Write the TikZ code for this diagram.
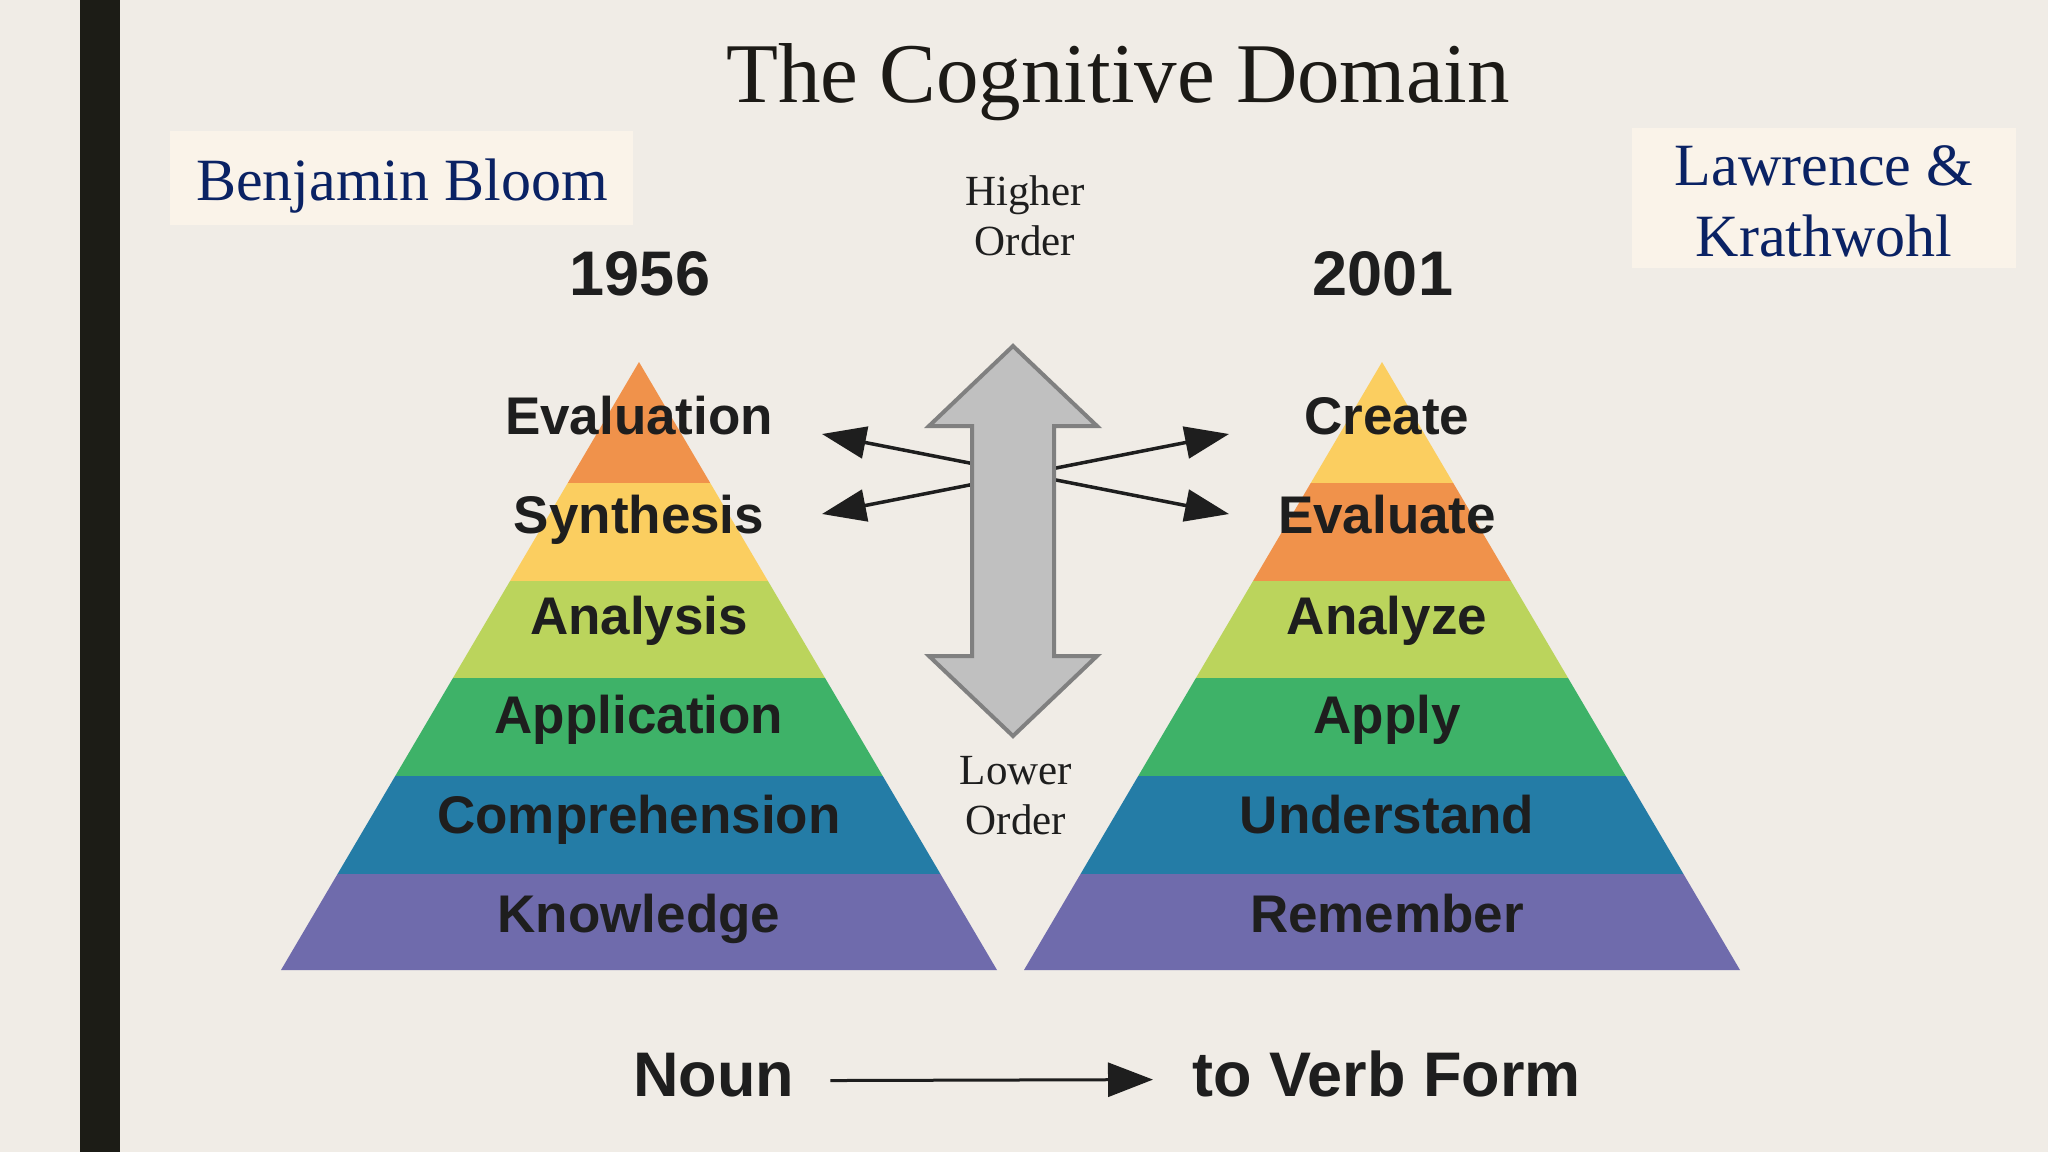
\documentclass[tikz,border=0pt]{standalone}
\usepackage{fontspec}
\setmainfont{Liberation Serif}
\newfontfamily\labsans{Liberation Sans}
\usetikzlibrary{arrows.meta}
\definecolor{bg}{RGB}{240,236,230}
\definecolor{barcol}{RGB}{28,28,22}
\definecolor{boxcol}{RGB}{250,243,233}
\definecolor{navy}{RGB}{10,34,100}
\definecolor{titlecol}{RGB}{28,26,22}
\definecolor{corange}{RGB}{240,146,75}
\definecolor{cyellow}{RGB}{251,206,96}
\definecolor{clgreen}{RGB}{187,212,92}
\definecolor{cgreen}{RGB}{62,178,104}
\definecolor{cblue}{RGB}{36,124,166}
\definecolor{cpurple}{RGB}{111,107,172}
\definecolor{labcol}{RGB}{30,30,30}
\definecolor{arrfill}{RGB}{192,192,192}
\definecolor{arrdraw}{RGB}{128,128,128}
\tikzset{
  lvl/.style={anchor=base, inner sep=0pt, text=labcol, font=\labsans\bfseries\fontsize{53}{60}\selectfont},
  yearlbl/.style={anchor=base, inner sep=0pt, text=labcol, font=\labsans\bfseries\fontsize{63}{70}\selectfont},
  authorlbl/.style={anchor=base, inner sep=0pt, text=navy, font=\fontsize{60}{70}\selectfont},
  orderlbl/.style={anchor=base, inner sep=0pt, text=labcol, font=\fontsize{43}{50}\selectfont},
  authorbox/.style={fill=boxcol, draw=none, inner sep=0pt},
  xarrow/.style={line width=3.5pt, draw=labcol, {Triangle[length=44pt,width=32pt]}-{Triangle[length=44pt,width=32pt]}},
  bigarrow/.style={fill=arrfill, draw=arrdraw, line width=4pt, line join=miter}
}
\begin{document}
\begin{tikzpicture}[x=1pt,y=-1pt]
\useasboundingbox (0,0) rectangle (2048,1152);
\fill[bg] (0,0) rectangle (2048,1152);
\fill[barcol] (80,0) rectangle (120,1152);

% title
\node[anchor=base, inner sep=0pt, text=titlecol, font=\fontsize{85}{100}\selectfont] (title) at (1118,102) {The Cognitive Domain};

% author boxes
\node[authorbox, minimum width=463pt, minimum height=94pt] (bloombox) at (401.5,178) {};
\node[authorlbl] (bloom) at (402,200) {Benjamin Bloom};
\node[authorbox, minimum width=384pt, minimum height=140pt] (lkbox) at (1824,198) {};
\node[authorlbl] (lk1) at (1824,185) {Lawrence \&};
\node[authorlbl] (lk2) at (1824,256) {Krathwohl};

% years
\node[yearlbl] (y1956) at (640,295) {1956};
\node[yearlbl] (y2001) at (1383,295) {2001};

% order labels
\node[orderlbl] (hi1) at (1025,205) {Higher};
\node[orderlbl] (hi2) at (1025,255) {Order};
\node[orderlbl] (lo1) at (1016,784) {Lower};
\node[orderlbl] (lo2) at (1016,834) {Order};

% left pyramid
\begin{scope}
\clip (639,362) -- (281,970) -- (997,970) -- cycle;
\fill[corange] (250,340) rectangle (1030,483);
\fill[cyellow] (250,483) rectangle (1030,581);
\fill[clgreen] (250,581) rectangle (1030,678);
\fill[cgreen]  (250,678) rectangle (1030,776);
\fill[cblue]   (250,776) rectangle (1030,874);
\fill[cpurple] (250,874) rectangle (1030,975);
\end{scope}

% right pyramid
\begin{scope}[xshift=743pt]
\clip (639,362) -- (281,970) -- (997,970) -- cycle;
\fill[cyellow] (250,340) rectangle (1030,483);
\fill[corange] (250,483) rectangle (1030,581);
\fill[clgreen] (250,581) rectangle (1030,678);
\fill[cgreen]  (250,678) rectangle (1030,776);
\fill[cblue]   (250,776) rectangle (1030,874);
\fill[cpurple] (250,874) rectangle (1030,975);
\end{scope}

% left labels
\node[lvl] (evaluation) at (639,434) {Evaluation};
\node[lvl] (synthesis) at (639,533) {Synthesis};
\node[lvl] (analysis) at (639,634) {Analysis};
\node[lvl] (application) at (639,733) {Application};
\node[lvl] (comprehension) at (639,833) {Comprehension};
\node[lvl] (knowledge) at (639,932) {Knowledge};

% right labels
\node[lvl] (create) at (1387,434) {Create};
\node[lvl] (evaluate) at (1387,533) {Evaluate};
\node[lvl] (analyze) at (1387,634) {Analyze};
\node[lvl] (apply) at (1387,733) {Apply};
\node[lvl] (understand) at (1387,833) {Understand};
\node[lvl] (remember) at (1387,932) {Remember};

% crossing arrows
\coordinate (tipEvalL) at (822,434);
\coordinate (tipSynL) at (822,514);
\coordinate (tipCreR) at (1229,434);
\coordinate (tipEvaR) at (1229,514);
\draw[xarrow] (tipEvalL) -- (tipEvaR);
\draw[xarrow] (tipSynL) -- (tipCreR);

% big grey double arrow
\draw[bigarrow] (1013,346) -- (1097,426) -- (1054,426) -- (1054,656) -- (1097,656)
  -- (1013,736) -- (929,656) -- (972,656) -- (972,426) -- (929,426) -- cycle;

% noun to verb
\node[yearlbl, anchor=base west] (noun) at (633,1096) {Noun};
\node[yearlbl, anchor=base west] (verb) at (1192,1096) {to Verb Form};
\draw[line width=3pt, draw=labcol, -{Triangle[length=45pt,width=34pt]}, shorten <=36pt, shorten >=39pt]
  ([yshift=-6pt]noun.east) -- ([yshift=-6pt]verb.west);
\end{tikzpicture}
\end{document}
